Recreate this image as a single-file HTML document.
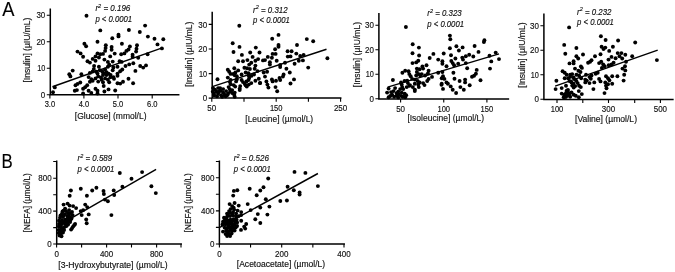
<!DOCTYPE html>
<html><head><meta charset="utf-8"><title>Figure</title>
<style>html,body{margin:0;padding:0;background:#fff}svg{display:block}text{font-family:'Liberation Sans', Arial, Helvetica, sans-serif;stroke:#111;stroke-width:.15px}</style>
</head><body>
<svg width="675" height="272" viewBox="0 0 675 272">
<rect width="675" height="272" fill="#fff"/>
<g style="stroke:#000;stroke-width:.35px">
<text x="2.30" y="16.40" font-size="20.3" text-anchor="start" fill="#000" textLength="12.20" lengthAdjust="spacingAndGlyphs">A</text>
<text x="1.60" y="167.75" font-size="20.3" text-anchor="start" fill="#000" textLength="11.20" lengthAdjust="spacingAndGlyphs">B</text>
</g>
<path d="M50.30 9.20V94.80H178.70" fill="none" stroke="#000" stroke-width="1.5" stroke-linecap="square"/>
<text x="45.30" y="97.95" font-size="8.6" text-anchor="end" fill="#111" textLength="4.45" lengthAdjust="spacingAndGlyphs">0</text>
<text x="45.30" y="71.45" font-size="8.6" text-anchor="end" fill="#111" textLength="8.15" lengthAdjust="spacingAndGlyphs">10</text>
<text x="45.30" y="44.95" font-size="8.6" text-anchor="end" fill="#111" textLength="8.90" lengthAdjust="spacingAndGlyphs">20</text>
<text x="45.30" y="18.35" font-size="8.6" text-anchor="end" fill="#111" textLength="8.90" lengthAdjust="spacingAndGlyphs">30</text>
<text x="49.90" y="107.45" font-size="8.6" text-anchor="middle" fill="#111" textLength="10.50" lengthAdjust="spacingAndGlyphs">3.0</text>
<text x="83.90" y="107.45" font-size="8.6" text-anchor="middle" fill="#111" textLength="10.50" lengthAdjust="spacingAndGlyphs">4.0</text>
<text x="118.00" y="107.45" font-size="8.6" text-anchor="middle" fill="#111" textLength="10.50" lengthAdjust="spacingAndGlyphs">5.0</text>
<text x="152.20" y="107.45" font-size="8.6" text-anchor="middle" fill="#111" textLength="10.50" lengthAdjust="spacingAndGlyphs">6.0</text>
<path d="M46.80 94.80H50.30M46.80 68.30H50.30M46.80 41.80H50.30M46.80 15.20H50.30M49.90 94.80V98.40M83.90 94.80V98.40M118.00 94.80V98.40M152.20 94.80V98.40" fill="none" stroke="#000" stroke-width="1.1"/>
<text x="110.65" y="118.70" font-size="8.6" text-anchor="middle" fill="#111" textLength="71.70" lengthAdjust="spacingAndGlyphs">[Glucose] (mmol/L)</text>
<text x="30.30" y="50.10" font-size="8.6" text-anchor="middle" fill="#111" textLength="65.00" lengthAdjust="spacingAndGlyphs" transform="rotate(-90 30.30 50.10)">[Insulin] (µIU/mL)</text>
<text x="95.40" y="11.40" font-size="8.6" font-style="italic" fill="#111" textLength="34.90" lengthAdjust="spacingAndGlyphs">r<tspan font-size="6" dy="-3.3">2</tspan><tspan dy="3.3"> = 0.196</tspan></text>
<text x="95.40" y="21.70" font-size="8.6" text-anchor="start" fill="#111" textLength="36.70" lengthAdjust="spacingAndGlyphs" font-style="italic">p &lt; 0.0001</text>
<line x1="52.4" y1="86.7" x2="162.9" y2="47.6" stroke="#000" stroke-width="1.45"/>
<g fill="#000">
<circle cx="86.5" cy="15.8" r="1.95"/>
<circle cx="100.3" cy="30.4" r="1.95"/>
<circle cx="128.9" cy="30.0" r="1.95"/>
<circle cx="139.8" cy="32.0" r="1.95"/>
<circle cx="118.5" cy="34.8" r="1.95"/>
<circle cx="118.5" cy="36.4" r="1.95"/>
<circle cx="112.3" cy="38.2" r="1.95"/>
<circle cx="97.5" cy="41.7" r="1.95"/>
<circle cx="84.4" cy="43.8" r="1.95"/>
<circle cx="86.1" cy="46.3" r="1.95"/>
<circle cx="105.8" cy="45.2" r="1.95"/>
<circle cx="121.9" cy="43.8" r="1.95"/>
<circle cx="111.6" cy="47.0" r="1.95"/>
<circle cx="129.9" cy="46.5" r="1.95"/>
<circle cx="137.0" cy="45.2" r="1.95"/>
<circle cx="145.1" cy="25.6" r="1.95"/>
<circle cx="147.9" cy="36.6" r="1.95"/>
<circle cx="154.5" cy="38.7" r="1.95"/>
<circle cx="163.3" cy="39.3" r="1.95"/>
<circle cx="157.5" cy="44.4" r="1.95"/>
<circle cx="105.6" cy="48.1" r="1.95"/>
<circle cx="105.1" cy="50.9" r="1.95"/>
<circle cx="111.6" cy="49.8" r="1.95"/>
<circle cx="128.5" cy="49.5" r="1.95"/>
<circle cx="126.4" cy="50.9" r="1.95"/>
<circle cx="136.5" cy="48.8" r="1.95"/>
<circle cx="136.1" cy="51.6" r="1.95"/>
<circle cx="77.5" cy="51.6" r="1.95"/>
<circle cx="80.6" cy="53.4" r="1.95"/>
<circle cx="83.1" cy="56.7" r="1.95"/>
<circle cx="97.5" cy="53.4" r="1.95"/>
<circle cx="100.3" cy="54.3" r="1.95"/>
<circle cx="103.0" cy="53.9" r="1.95"/>
<circle cx="95.5" cy="56.4" r="1.95"/>
<circle cx="98.9" cy="57.5" r="1.95"/>
<circle cx="92.7" cy="58.9" r="1.95"/>
<circle cx="95.5" cy="60.8" r="1.95"/>
<circle cx="87.5" cy="61.2" r="1.95"/>
<circle cx="89.9" cy="62.6" r="1.95"/>
<circle cx="114.7" cy="53.6" r="1.95"/>
<circle cx="121.2" cy="54.3" r="1.95"/>
<circle cx="124.4" cy="53.4" r="1.95"/>
<circle cx="110.2" cy="56.4" r="1.95"/>
<circle cx="104.4" cy="59.6" r="1.95"/>
<circle cx="107.9" cy="61.9" r="1.95"/>
<circle cx="112.7" cy="61.6" r="1.95"/>
<circle cx="119.6" cy="61.2" r="1.95"/>
<circle cx="121.6" cy="61.9" r="1.95"/>
<circle cx="132.6" cy="54.7" r="1.95"/>
<circle cx="132.6" cy="56.7" r="1.95"/>
<circle cx="138.2" cy="57.8" r="1.95"/>
<circle cx="125.5" cy="66.0" r="1.95"/>
<circle cx="129.2" cy="64.4" r="1.95"/>
<circle cx="133.3" cy="63.3" r="1.95"/>
<circle cx="140.2" cy="66.0" r="1.95"/>
<circle cx="94.1" cy="66.0" r="1.95"/>
<circle cx="93.8" cy="69.1" r="1.95"/>
<circle cx="92.7" cy="71.5" r="1.95"/>
<circle cx="98.9" cy="66.7" r="1.95"/>
<circle cx="107.9" cy="66.7" r="1.95"/>
<circle cx="109.2" cy="64.7" r="1.95"/>
<circle cx="105.1" cy="69.5" r="1.95"/>
<circle cx="106.5" cy="72.2" r="1.95"/>
<circle cx="113.4" cy="67.4" r="1.95"/>
<circle cx="112.7" cy="70.2" r="1.95"/>
<circle cx="117.5" cy="66.7" r="1.95"/>
<circle cx="122.3" cy="69.5" r="1.95"/>
<circle cx="120.2" cy="71.3" r="1.95"/>
<circle cx="117.5" cy="73.6" r="1.95"/>
<circle cx="135.4" cy="70.9" r="1.95"/>
<circle cx="72.7" cy="70.6" r="1.95"/>
<circle cx="69.3" cy="74.3" r="1.95"/>
<circle cx="70.4" cy="76.4" r="1.95"/>
<circle cx="81.4" cy="74.3" r="1.95"/>
<circle cx="89.9" cy="72.9" r="1.95"/>
<circle cx="97.5" cy="73.6" r="1.95"/>
<circle cx="98.2" cy="76.4" r="1.95"/>
<circle cx="102.3" cy="71.5" r="1.95"/>
<circle cx="103.0" cy="75.0" r="1.95"/>
<circle cx="110.6" cy="75.0" r="1.95"/>
<circle cx="113.4" cy="77.1" r="1.95"/>
<circle cx="117.5" cy="75.7" r="1.95"/>
<circle cx="128.5" cy="78.8" r="1.95"/>
<circle cx="88.6" cy="77.1" r="1.95"/>
<circle cx="91.3" cy="79.1" r="1.95"/>
<circle cx="95.5" cy="78.4" r="1.95"/>
<circle cx="105.1" cy="78.4" r="1.95"/>
<circle cx="107.9" cy="79.8" r="1.95"/>
<circle cx="101.7" cy="79.8" r="1.95"/>
<circle cx="54.8" cy="87.4" r="1.95"/>
<circle cx="53.0" cy="92.2" r="1.95"/>
<circle cx="75.5" cy="85.3" r="1.95"/>
<circle cx="77.5" cy="83.9" r="1.95"/>
<circle cx="80.3" cy="82.5" r="1.95"/>
<circle cx="74.8" cy="90.8" r="1.95"/>
<circle cx="76.9" cy="90.1" r="1.95"/>
<circle cx="83.1" cy="88.7" r="1.95"/>
<circle cx="85.1" cy="87.3" r="1.95"/>
<circle cx="87.2" cy="85.3" r="1.95"/>
<circle cx="83.1" cy="93.5" r="1.95"/>
<circle cx="89.9" cy="81.8" r="1.95"/>
<circle cx="92.7" cy="80.8" r="1.95"/>
<circle cx="88.6" cy="90.8" r="1.95"/>
<circle cx="91.3" cy="92.9" r="1.95"/>
<circle cx="95.5" cy="88.7" r="1.95"/>
<circle cx="97.5" cy="90.8" r="1.95"/>
<circle cx="97.5" cy="93.5" r="1.95"/>
<circle cx="98.2" cy="81.6" r="1.95"/>
<circle cx="103.0" cy="82.2" r="1.95"/>
<circle cx="103.7" cy="86.0" r="1.95"/>
<circle cx="104.4" cy="91.5" r="1.95"/>
<circle cx="108.5" cy="89.4" r="1.95"/>
<circle cx="109.2" cy="82.2" r="1.95"/>
<circle cx="114.0" cy="78.8" r="1.95"/>
<circle cx="115.2" cy="90.5" r="1.95"/>
<circle cx="117.5" cy="83.2" r="1.95"/>
<circle cx="120.2" cy="83.6" r="1.95"/>
<circle cx="123.0" cy="81.8" r="1.95"/>
<circle cx="133.1" cy="83.2" r="1.95"/>
<circle cx="161.9" cy="48.4" r="1.95"/>
<circle cx="147.6" cy="54.3" r="1.95"/>
<circle cx="146.0" cy="65.4" r="1.95"/>
<circle cx="143.2" cy="67.6" r="1.95"/>
<circle cx="103.6" cy="73.3" r="1.95"/>
<circle cx="106.5" cy="75.0" r="1.95"/>
<circle cx="108.6" cy="73.8" r="1.95"/>
<circle cx="101.0" cy="77.5" r="1.95"/>
<circle cx="110.4" cy="77.2" r="1.95"/>
<circle cx="99.8" cy="70.2" r="1.95"/>
<circle cx="96.3" cy="71.8" r="1.95"/>
</g>
<path d="M212.20 12.40V98.10H340.70" fill="none" stroke="#000" stroke-width="1.5" stroke-linecap="square"/>
<text x="207.20" y="101.25" font-size="8.6" text-anchor="end" fill="#111" textLength="4.45" lengthAdjust="spacingAndGlyphs">0</text>
<text x="207.20" y="76.75" font-size="8.6" text-anchor="end" fill="#111" textLength="8.15" lengthAdjust="spacingAndGlyphs">10</text>
<text x="207.20" y="52.15" font-size="8.6" text-anchor="end" fill="#111" textLength="8.90" lengthAdjust="spacingAndGlyphs">20</text>
<text x="207.20" y="27.55" font-size="8.6" text-anchor="end" fill="#111" textLength="8.90" lengthAdjust="spacingAndGlyphs">30</text>
<text x="211.80" y="110.95" font-size="8.6" text-anchor="middle" fill="#111" textLength="8.90" lengthAdjust="spacingAndGlyphs">50</text>
<text x="276.20" y="110.95" font-size="8.6" text-anchor="middle" fill="#111" textLength="12.60" lengthAdjust="spacingAndGlyphs">150</text>
<text x="340.60" y="110.95" font-size="8.6" text-anchor="middle" fill="#111" textLength="13.35" lengthAdjust="spacingAndGlyphs">250</text>
<path d="M208.70 98.10H212.20M208.70 73.60H212.20M208.70 49.00H212.20M208.70 24.40H212.20M211.80 98.10V101.70M244.00 98.10V101.70M276.20 98.10V101.70M308.40 98.10V101.70M340.60 98.10V101.70" fill="none" stroke="#000" stroke-width="1.1"/>
<text x="279.25" y="121.60" font-size="8.6" text-anchor="middle" fill="#111" textLength="67.90" lengthAdjust="spacingAndGlyphs">[Leucine] (µmol/L)</text>
<text x="192.20" y="54.20" font-size="8.6" text-anchor="middle" fill="#111" textLength="65.20" lengthAdjust="spacingAndGlyphs" transform="rotate(-90 192.20 54.20)">[Insulin] (µIU/mL)</text>
<text x="253.10" y="12.50" font-size="8.6" font-style="italic" fill="#111" textLength="34.50" lengthAdjust="spacingAndGlyphs">r<tspan font-size="6" dy="-3.3">2</tspan><tspan dy="3.3"> = 0.312</tspan></text>
<text x="253.10" y="23.00" font-size="8.6" text-anchor="start" fill="#111" textLength="36.80" lengthAdjust="spacingAndGlyphs" font-style="italic">p &lt; 0.0001</text>
<line x1="212.3" y1="86.6" x2="326.5" y2="49.2" stroke="#000" stroke-width="1.45"/>
<g fill="#000">
<circle cx="239.3" cy="25.7" r="1.95"/>
<circle cx="278.5" cy="34.9" r="1.95"/>
<circle cx="272.2" cy="38.8" r="1.95"/>
<circle cx="232.7" cy="43.3" r="1.95"/>
<circle cx="239.5" cy="46.9" r="1.95"/>
<circle cx="255.8" cy="47.6" r="1.95"/>
<circle cx="278.5" cy="45.0" r="1.95"/>
<circle cx="278.5" cy="46.8" r="1.95"/>
<circle cx="297.0" cy="45.0" r="1.95"/>
<circle cx="275.1" cy="49.3" r="1.95"/>
<circle cx="287.6" cy="51.3" r="1.95"/>
<circle cx="291.6" cy="51.3" r="1.95"/>
<circle cx="233.5" cy="52.0" r="1.95"/>
<circle cx="250.2" cy="52.5" r="1.95"/>
<circle cx="259.5" cy="52.5" r="1.95"/>
<circle cx="241.9" cy="54.9" r="1.95"/>
<circle cx="252.6" cy="56.9" r="1.95"/>
<circle cx="272.6" cy="53.9" r="1.95"/>
<circle cx="275.6" cy="53.9" r="1.95"/>
<circle cx="296.3" cy="53.6" r="1.95"/>
<circle cx="287.8" cy="56.6" r="1.95"/>
<circle cx="290.5" cy="56.4" r="1.95"/>
<circle cx="300.2" cy="56.0" r="1.95"/>
<circle cx="303.6" cy="55.0" r="1.95"/>
<circle cx="267.8" cy="56.9" r="1.95"/>
<circle cx="271.9" cy="57.7" r="1.95"/>
<circle cx="258.1" cy="59.1" r="1.95"/>
<circle cx="255.4" cy="60.8" r="1.95"/>
<circle cx="263.0" cy="60.4" r="1.95"/>
<circle cx="265.0" cy="60.1" r="1.95"/>
<circle cx="247.4" cy="60.1" r="1.95"/>
<circle cx="238.2" cy="61.2" r="1.95"/>
<circle cx="243.0" cy="61.2" r="1.95"/>
<circle cx="276.7" cy="60.8" r="1.95"/>
<circle cx="298.8" cy="60.8" r="1.95"/>
<circle cx="302.9" cy="60.4" r="1.95"/>
<circle cx="269.9" cy="62.2" r="1.95"/>
<circle cx="269.9" cy="64.6" r="1.95"/>
<circle cx="251.3" cy="62.8" r="1.95"/>
<circle cx="249.2" cy="64.6" r="1.95"/>
<circle cx="255.4" cy="65.6" r="1.95"/>
<circle cx="285.0" cy="62.8" r="1.95"/>
<circle cx="294.6" cy="63.8" r="1.95"/>
<circle cx="280.2" cy="64.9" r="1.95"/>
<circle cx="280.2" cy="67.0" r="1.95"/>
<circle cx="286.4" cy="68.8" r="1.95"/>
<circle cx="244.4" cy="67.7" r="1.95"/>
<circle cx="247.1" cy="68.3" r="1.95"/>
<circle cx="249.9" cy="69.0" r="1.95"/>
<circle cx="254.7" cy="68.8" r="1.95"/>
<circle cx="234.3" cy="68.3" r="1.95"/>
<circle cx="227.8" cy="69.7" r="1.95"/>
<circle cx="229.2" cy="71.8" r="1.95"/>
<circle cx="230.6" cy="73.9" r="1.95"/>
<circle cx="238.2" cy="70.4" r="1.95"/>
<circle cx="235.4" cy="72.5" r="1.95"/>
<circle cx="233.3" cy="73.9" r="1.95"/>
<circle cx="245.7" cy="72.5" r="1.95"/>
<circle cx="248.5" cy="73.2" r="1.95"/>
<circle cx="257.5" cy="71.1" r="1.95"/>
<circle cx="263.7" cy="72.5" r="1.95"/>
<circle cx="267.1" cy="71.8" r="1.95"/>
<circle cx="289.8" cy="72.5" r="1.95"/>
<circle cx="241.6" cy="74.5" r="1.95"/>
<circle cx="236.8" cy="76.2" r="1.95"/>
<circle cx="234.7" cy="75.2" r="1.95"/>
<circle cx="248.5" cy="75.2" r="1.95"/>
<circle cx="251.3" cy="75.9" r="1.95"/>
<circle cx="254.0" cy="74.5" r="1.95"/>
<circle cx="249.2" cy="78.0" r="1.95"/>
<circle cx="248.5" cy="80.0" r="1.95"/>
<circle cx="265.0" cy="76.6" r="1.95"/>
<circle cx="283.6" cy="74.5" r="1.95"/>
<circle cx="282.9" cy="76.6" r="1.95"/>
<circle cx="279.5" cy="78.0" r="1.95"/>
<circle cx="280.2" cy="80.0" r="1.95"/>
<circle cx="258.8" cy="78.7" r="1.95"/>
<circle cx="255.4" cy="80.7" r="1.95"/>
<circle cx="271.9" cy="79.4" r="1.95"/>
<circle cx="272.6" cy="81.4" r="1.95"/>
<circle cx="276.0" cy="80.7" r="1.95"/>
<circle cx="294.0" cy="79.4" r="1.95"/>
<circle cx="217.5" cy="79.2" r="1.95"/>
<circle cx="227.8" cy="77.6" r="1.95"/>
<circle cx="230.6" cy="80.0" r="1.95"/>
<circle cx="229.9" cy="82.1" r="1.95"/>
<circle cx="236.8" cy="79.4" r="1.95"/>
<circle cx="236.1" cy="81.4" r="1.95"/>
<circle cx="241.6" cy="80.0" r="1.95"/>
<circle cx="243.0" cy="82.1" r="1.95"/>
<circle cx="246.4" cy="81.4" r="1.95"/>
<circle cx="266.4" cy="81.4" r="1.95"/>
<circle cx="260.2" cy="83.0" r="1.95"/>
<circle cx="290.5" cy="83.5" r="1.95"/>
<circle cx="213.0" cy="88.1" r="1.95"/>
<circle cx="212.8" cy="91.6" r="1.95"/>
<circle cx="214.0" cy="95.2" r="1.95"/>
<circle cx="218.1" cy="93.7" r="1.95"/>
<circle cx="220.1" cy="88.1" r="1.95"/>
<circle cx="220.6" cy="90.6" r="1.95"/>
<circle cx="223.1" cy="92.6" r="1.95"/>
<circle cx="224.6" cy="94.7" r="1.95"/>
<circle cx="225.6" cy="96.2" r="1.95"/>
<circle cx="221.1" cy="95.2" r="1.95"/>
<circle cx="228.6" cy="87.1" r="1.95"/>
<circle cx="229.7" cy="89.1" r="1.95"/>
<circle cx="230.2" cy="91.6" r="1.95"/>
<circle cx="232.2" cy="93.1" r="1.95"/>
<circle cx="234.2" cy="94.7" r="1.95"/>
<circle cx="234.7" cy="96.7" r="1.95"/>
<circle cx="228.1" cy="93.7" r="1.95"/>
<circle cx="216.6" cy="91.6" r="1.95"/>
<circle cx="230.7" cy="84.3" r="1.95"/>
<circle cx="233.7" cy="85.1" r="1.95"/>
<circle cx="235.2" cy="86.6" r="1.95"/>
<circle cx="240.2" cy="86.1" r="1.95"/>
<circle cx="239.7" cy="88.6" r="1.95"/>
<circle cx="239.7" cy="90.1" r="1.95"/>
<circle cx="244.8" cy="83.9" r="1.95"/>
<circle cx="245.8" cy="85.4" r="1.95"/>
<circle cx="246.8" cy="86.6" r="1.95"/>
<circle cx="248.8" cy="84.6" r="1.95"/>
<circle cx="251.3" cy="83.1" r="1.95"/>
<circle cx="259.9" cy="83.1" r="1.95"/>
<circle cx="267.4" cy="84.6" r="1.95"/>
<circle cx="268.4" cy="87.6" r="1.95"/>
<circle cx="275.5" cy="87.1" r="1.95"/>
<circle cx="277.2" cy="91.3" r="1.95"/>
<circle cx="306.8" cy="39.1" r="1.95"/>
<circle cx="313.2" cy="41.2" r="1.95"/>
<circle cx="327.4" cy="58.2" r="1.95"/>
<circle cx="308.2" cy="67.6" r="1.95"/>
<circle cx="215.0" cy="89.6" r="1.95"/>
<circle cx="218.1" cy="88.1" r="1.95"/>
<circle cx="223.1" cy="89.1" r="1.95"/>
<circle cx="226.1" cy="91.1" r="1.95"/>
<circle cx="227.1" cy="95.2" r="1.95"/>
<circle cx="232.2" cy="90.1" r="1.95"/>
<circle cx="214.0" cy="93.7" r="1.95"/>
<circle cx="219.1" cy="91.6" r="1.95"/>
<circle cx="222.1" cy="96.7" r="1.95"/>
<circle cx="234.7" cy="92.6" r="1.95"/>
<circle cx="217.0" cy="96.2" r="1.95"/>
</g>
<path d="M378.90 13.80V98.90H508.40" fill="none" stroke="#000" stroke-width="1.5" stroke-linecap="square"/>
<text x="373.90" y="101.95" font-size="8.6" text-anchor="end" fill="#111" textLength="4.45" lengthAdjust="spacingAndGlyphs">0</text>
<text x="373.90" y="77.45" font-size="8.6" text-anchor="end" fill="#111" textLength="8.15" lengthAdjust="spacingAndGlyphs">10</text>
<text x="373.90" y="52.95" font-size="8.6" text-anchor="end" fill="#111" textLength="8.90" lengthAdjust="spacingAndGlyphs">20</text>
<text x="373.90" y="28.45" font-size="8.6" text-anchor="end" fill="#111" textLength="8.90" lengthAdjust="spacingAndGlyphs">30</text>
<text x="400.60" y="112.05" font-size="8.6" text-anchor="middle" fill="#111" textLength="8.90" lengthAdjust="spacingAndGlyphs">50</text>
<text x="443.75" y="112.05" font-size="8.6" text-anchor="middle" fill="#111" textLength="12.60" lengthAdjust="spacingAndGlyphs">100</text>
<text x="486.90" y="112.05" font-size="8.6" text-anchor="middle" fill="#111" textLength="12.60" lengthAdjust="spacingAndGlyphs">150</text>
<path d="M375.40 98.80H378.90M375.40 74.30H378.90M375.40 49.80H378.90M375.40 25.30H378.90M400.60 98.90V102.50M443.75 98.90V102.50M486.90 98.90V102.50" fill="none" stroke="#000" stroke-width="1.1"/>
<text x="445.75" y="121.40" font-size="8.6" text-anchor="middle" fill="#111" textLength="76.70" lengthAdjust="spacingAndGlyphs">[Isoleucine] (µmol/L)</text>
<text x="359.90" y="54.60" font-size="8.6" text-anchor="middle" fill="#111" textLength="65.20" lengthAdjust="spacingAndGlyphs" transform="rotate(-90 359.90 54.60)">[Insulin] (µIU/mL)</text>
<text x="427.30" y="16.10" font-size="8.6" font-style="italic" fill="#111" textLength="34.40" lengthAdjust="spacingAndGlyphs">r<tspan font-size="6" dy="-3.3">2</tspan><tspan dy="3.3"> = 0.323</tspan></text>
<text x="427.30" y="26.60" font-size="8.6" text-anchor="start" fill="#111" textLength="36.70" lengthAdjust="spacingAndGlyphs" font-style="italic">p &lt; 0.0001</text>
<line x1="387.6" y1="87.1" x2="499" y2="53.9" stroke="#000" stroke-width="1.45"/>
<g fill="#000">
<circle cx="405.9" cy="27.0" r="1.95"/>
<circle cx="449.9" cy="35.6" r="1.95"/>
<circle cx="450.3" cy="39.3" r="1.95"/>
<circle cx="412.7" cy="44.2" r="1.95"/>
<circle cx="418.9" cy="47.6" r="1.95"/>
<circle cx="449.9" cy="48.3" r="1.95"/>
<circle cx="456.4" cy="46.2" r="1.95"/>
<circle cx="458.9" cy="50.5" r="1.95"/>
<circle cx="462.6" cy="47.4" r="1.95"/>
<circle cx="412.5" cy="53.2" r="1.95"/>
<circle cx="433.4" cy="53.9" r="1.95"/>
<circle cx="443.7" cy="53.5" r="1.95"/>
<circle cx="451.0" cy="55.3" r="1.95"/>
<circle cx="419.1" cy="55.5" r="1.95"/>
<circle cx="469.2" cy="54.7" r="1.95"/>
<circle cx="465.8" cy="56.2" r="1.95"/>
<circle cx="462.3" cy="57.6" r="1.95"/>
<circle cx="463.0" cy="59.6" r="1.95"/>
<circle cx="429.7" cy="58.0" r="1.95"/>
<circle cx="438.2" cy="59.6" r="1.95"/>
<circle cx="455.4" cy="58.5" r="1.95"/>
<circle cx="418.3" cy="60.7" r="1.95"/>
<circle cx="416.2" cy="62.4" r="1.95"/>
<circle cx="412.5" cy="63.1" r="1.95"/>
<circle cx="442.4" cy="61.3" r="1.95"/>
<circle cx="442.4" cy="63.8" r="1.95"/>
<circle cx="451.3" cy="61.0" r="1.95"/>
<circle cx="452.7" cy="63.1" r="1.95"/>
<circle cx="454.1" cy="65.2" r="1.95"/>
<circle cx="458.2" cy="63.8" r="1.95"/>
<circle cx="465.8" cy="63.1" r="1.95"/>
<circle cx="426.5" cy="65.2" r="1.95"/>
<circle cx="446.5" cy="66.3" r="1.95"/>
<circle cx="422.4" cy="66.5" r="1.95"/>
<circle cx="423.1" cy="68.6" r="1.95"/>
<circle cx="416.9" cy="68.6" r="1.95"/>
<circle cx="419.6" cy="69.3" r="1.95"/>
<circle cx="467.2" cy="68.2" r="1.95"/>
<circle cx="428.6" cy="70.7" r="1.95"/>
<circle cx="427.9" cy="73.4" r="1.95"/>
<circle cx="405.2" cy="70.7" r="1.95"/>
<circle cx="402.4" cy="72.7" r="1.95"/>
<circle cx="408.6" cy="71.3" r="1.95"/>
<circle cx="409.3" cy="74.1" r="1.95"/>
<circle cx="410.7" cy="76.2" r="1.95"/>
<circle cx="416.9" cy="72.0" r="1.95"/>
<circle cx="418.9" cy="74.1" r="1.95"/>
<circle cx="420.3" cy="75.5" r="1.95"/>
<circle cx="421.7" cy="74.1" r="1.95"/>
<circle cx="416.2" cy="75.5" r="1.95"/>
<circle cx="438.2" cy="72.7" r="1.95"/>
<circle cx="442.4" cy="72.0" r="1.95"/>
<circle cx="453.4" cy="72.7" r="1.95"/>
<circle cx="425.1" cy="75.5" r="1.95"/>
<circle cx="443.0" cy="76.2" r="1.95"/>
<circle cx="441.7" cy="78.2" r="1.95"/>
<circle cx="444.4" cy="78.9" r="1.95"/>
<circle cx="432.0" cy="76.9" r="1.95"/>
<circle cx="428.6" cy="78.9" r="1.95"/>
<circle cx="427.2" cy="81.0" r="1.95"/>
<circle cx="392.9" cy="80.0" r="1.95"/>
<circle cx="412.1" cy="78.9" r="1.95"/>
<circle cx="414.8" cy="79.6" r="1.95"/>
<circle cx="404.5" cy="81.0" r="1.95"/>
<circle cx="401.0" cy="82.4" r="1.95"/>
<circle cx="401.7" cy="84.4" r="1.95"/>
<circle cx="407.9" cy="83.1" r="1.95"/>
<circle cx="410.0" cy="85.1" r="1.95"/>
<circle cx="417.6" cy="81.0" r="1.95"/>
<circle cx="419.6" cy="82.4" r="1.95"/>
<circle cx="418.3" cy="84.4" r="1.95"/>
<circle cx="423.1" cy="83.1" r="1.95"/>
<circle cx="424.5" cy="85.1" r="1.95"/>
<circle cx="414.8" cy="83.7" r="1.95"/>
<circle cx="454.5" cy="78.7" r="1.95"/>
<circle cx="459.6" cy="81.0" r="1.95"/>
<circle cx="465.1" cy="79.6" r="1.95"/>
<circle cx="465.1" cy="82.4" r="1.95"/>
<circle cx="446.5" cy="82.4" r="1.95"/>
<circle cx="447.9" cy="83.7" r="1.95"/>
<circle cx="441.7" cy="83.7" r="1.95"/>
<circle cx="450.7" cy="86.4" r="1.95"/>
<circle cx="469.7" cy="85.2" r="1.95"/>
<circle cx="407.2" cy="80.6" r="1.95"/>
<circle cx="402.2" cy="87.1" r="1.95"/>
<circle cx="403.2" cy="89.1" r="1.95"/>
<circle cx="395.1" cy="88.1" r="1.95"/>
<circle cx="388.6" cy="88.6" r="1.95"/>
<circle cx="387.1" cy="92.6" r="1.95"/>
<circle cx="392.1" cy="94.7" r="1.95"/>
<circle cx="396.7" cy="95.7" r="1.95"/>
<circle cx="398.7" cy="94.2" r="1.95"/>
<circle cx="388.6" cy="97.2" r="1.95"/>
<circle cx="401.7" cy="92.6" r="1.95"/>
<circle cx="404.7" cy="93.7" r="1.95"/>
<circle cx="406.2" cy="95.2" r="1.95"/>
<circle cx="402.7" cy="96.7" r="1.95"/>
<circle cx="406.7" cy="87.1" r="1.95"/>
<circle cx="409.2" cy="85.9" r="1.95"/>
<circle cx="412.8" cy="87.1" r="1.95"/>
<circle cx="414.8" cy="89.6" r="1.95"/>
<circle cx="414.8" cy="91.1" r="1.95"/>
<circle cx="418.8" cy="87.1" r="1.95"/>
<circle cx="441.5" cy="84.8" r="1.95"/>
<circle cx="443.0" cy="88.9" r="1.95"/>
<circle cx="484.4" cy="40.3" r="1.95"/>
<circle cx="483.9" cy="42.1" r="1.95"/>
<circle cx="474.6" cy="46.0" r="1.95"/>
<circle cx="478.5" cy="51.9" r="1.95"/>
<circle cx="495.7" cy="52.6" r="1.95"/>
<circle cx="473.3" cy="56.5" r="1.95"/>
<circle cx="489.5" cy="55.7" r="1.95"/>
<circle cx="499.0" cy="59.1" r="1.95"/>
<circle cx="491.3" cy="61.4" r="1.95"/>
<circle cx="476.7" cy="69.9" r="1.95"/>
<circle cx="490.0" cy="68.6" r="1.95"/>
<circle cx="475.9" cy="73.7" r="1.95"/>
<circle cx="474.1" cy="75.8" r="1.95"/>
<circle cx="472.0" cy="76.8" r="1.95"/>
<circle cx="480.5" cy="80.2" r="1.95"/>
<circle cx="460.4" cy="87.1" r="1.95"/>
<circle cx="452.7" cy="89.7" r="1.95"/>
<circle cx="463.8" cy="89.7" r="1.95"/>
<circle cx="456.1" cy="93.0" r="1.95"/>
<circle cx="393.6" cy="91.1" r="1.95"/>
<circle cx="398.2" cy="91.6" r="1.95"/>
<circle cx="400.2" cy="89.1" r="1.95"/>
<circle cx="396.7" cy="93.3" r="1.95"/>
<circle cx="401.2" cy="95.9" r="1.95"/>
<circle cx="394.1" cy="96.7" r="1.95"/>
<circle cx="398.2" cy="97.5" r="1.95"/>
<circle cx="405.2" cy="97.2" r="1.95"/>
<circle cx="391.1" cy="92.1" r="1.95"/>
<circle cx="390.3" cy="96.0" r="1.95"/>
</g>
<path d="M543.90 14.30V99.40H672.90" fill="none" stroke="#000" stroke-width="1.5" stroke-linecap="square"/>
<text x="538.90" y="102.45" font-size="8.6" text-anchor="end" fill="#111" textLength="4.45" lengthAdjust="spacingAndGlyphs">0</text>
<text x="538.90" y="77.95" font-size="8.6" text-anchor="end" fill="#111" textLength="8.15" lengthAdjust="spacingAndGlyphs">10</text>
<text x="538.90" y="53.45" font-size="8.6" text-anchor="end" fill="#111" textLength="8.90" lengthAdjust="spacingAndGlyphs">20</text>
<text x="538.90" y="28.95" font-size="8.6" text-anchor="end" fill="#111" textLength="8.90" lengthAdjust="spacingAndGlyphs">30</text>
<text x="557.00" y="112.45" font-size="8.6" text-anchor="middle" fill="#111" textLength="12.60" lengthAdjust="spacingAndGlyphs">100</text>
<text x="608.50" y="112.45" font-size="8.6" text-anchor="middle" fill="#111" textLength="13.35" lengthAdjust="spacingAndGlyphs">300</text>
<text x="660.40" y="112.45" font-size="8.6" text-anchor="middle" fill="#111" textLength="13.35" lengthAdjust="spacingAndGlyphs">500</text>
<path d="M540.40 99.30H543.90M540.40 74.80H543.90M540.40 50.30H543.90M540.40 25.80H543.90M557.00 99.40V103.00M582.80 99.40V103.00M608.50 99.40V103.00M634.70 99.40V103.00M660.40 99.40V103.00" fill="none" stroke="#000" stroke-width="1.1"/>
<text x="606.00" y="121.80" font-size="8.6" text-anchor="middle" fill="#111" textLength="62.00" lengthAdjust="spacingAndGlyphs">[Valine] (µmol/L)</text>
<text x="525.30" y="55.10" font-size="8.6" text-anchor="middle" fill="#111" textLength="65.20" lengthAdjust="spacingAndGlyphs" transform="rotate(-90 525.30 55.10)">[Insulin] (µIU/mL)</text>
<text x="577.10" y="14.70" font-size="8.6" font-style="italic" fill="#111" textLength="34.40" lengthAdjust="spacingAndGlyphs">r<tspan font-size="6" dy="-3.3">2</tspan><tspan dy="3.3"> = 0.232</tspan></text>
<text x="577.10" y="25.00" font-size="8.6" text-anchor="start" fill="#111" textLength="36.80" lengthAdjust="spacingAndGlyphs" font-style="italic">p &lt; 0.0001</text>
<line x1="555.1" y1="86.1" x2="657.7" y2="50.1" stroke="#000" stroke-width="1.45"/>
<g fill="#000">
<circle cx="569.1" cy="27.4" r="1.95"/>
<circle cx="600.9" cy="36.3" r="1.95"/>
<circle cx="605.6" cy="40.0" r="1.95"/>
<circle cx="618.1" cy="40.5" r="1.95"/>
<circle cx="635.2" cy="42.5" r="1.95"/>
<circle cx="564.2" cy="44.9" r="1.95"/>
<circle cx="576.4" cy="48.0" r="1.95"/>
<circle cx="601.6" cy="46.7" r="1.95"/>
<circle cx="603.5" cy="49.0" r="1.95"/>
<circle cx="605.3" cy="47.6" r="1.95"/>
<circle cx="612.9" cy="46.7" r="1.95"/>
<circle cx="609.2" cy="50.9" r="1.95"/>
<circle cx="565.3" cy="53.8" r="1.95"/>
<circle cx="583.0" cy="54.5" r="1.95"/>
<circle cx="600.5" cy="54.2" r="1.95"/>
<circle cx="617.7" cy="53.1" r="1.95"/>
<circle cx="621.4" cy="53.1" r="1.95"/>
<circle cx="625.3" cy="54.7" r="1.95"/>
<circle cx="632.2" cy="56.2" r="1.95"/>
<circle cx="576.4" cy="56.2" r="1.95"/>
<circle cx="578.2" cy="58.5" r="1.95"/>
<circle cx="595.0" cy="56.2" r="1.95"/>
<circle cx="611.5" cy="56.9" r="1.95"/>
<circle cx="608.5" cy="59.6" r="1.95"/>
<circle cx="615.6" cy="58.3" r="1.95"/>
<circle cx="619.5" cy="56.2" r="1.95"/>
<circle cx="622.2" cy="58.5" r="1.95"/>
<circle cx="591.5" cy="60.3" r="1.95"/>
<circle cx="588.1" cy="62.7" r="1.95"/>
<circle cx="590.1" cy="61.7" r="1.95"/>
<circle cx="573.6" cy="61.3" r="1.95"/>
<circle cx="573.6" cy="63.4" r="1.95"/>
<circle cx="569.5" cy="63.4" r="1.95"/>
<circle cx="599.1" cy="63.1" r="1.95"/>
<circle cx="601.2" cy="61.7" r="1.95"/>
<circle cx="603.2" cy="64.5" r="1.95"/>
<circle cx="613.6" cy="62.7" r="1.95"/>
<circle cx="611.5" cy="64.5" r="1.95"/>
<circle cx="608.7" cy="65.2" r="1.95"/>
<circle cx="626.0" cy="61.7" r="1.95"/>
<circle cx="580.9" cy="66.5" r="1.95"/>
<circle cx="581.9" cy="67.9" r="1.95"/>
<circle cx="604.6" cy="66.3" r="1.95"/>
<circle cx="601.9" cy="67.9" r="1.95"/>
<circle cx="625.0" cy="66.3" r="1.95"/>
<circle cx="622.5" cy="68.6" r="1.95"/>
<circle cx="625.3" cy="70.4" r="1.95"/>
<circle cx="575.0" cy="68.6" r="1.95"/>
<circle cx="578.4" cy="70.7" r="1.95"/>
<circle cx="580.5" cy="72.0" r="1.95"/>
<circle cx="562.6" cy="71.3" r="1.95"/>
<circle cx="564.7" cy="72.7" r="1.95"/>
<circle cx="597.7" cy="72.7" r="1.95"/>
<circle cx="595.7" cy="73.7" r="1.95"/>
<circle cx="566.7" cy="74.8" r="1.95"/>
<circle cx="570.2" cy="74.8" r="1.95"/>
<circle cx="572.2" cy="74.1" r="1.95"/>
<circle cx="576.4" cy="74.8" r="1.95"/>
<circle cx="579.1" cy="75.5" r="1.95"/>
<circle cx="586.0" cy="74.8" r="1.95"/>
<circle cx="589.5" cy="76.9" r="1.95"/>
<circle cx="591.5" cy="75.5" r="1.95"/>
<circle cx="624.2" cy="74.8" r="1.95"/>
<circle cx="564.7" cy="78.2" r="1.95"/>
<circle cx="568.1" cy="78.2" r="1.95"/>
<circle cx="570.2" cy="76.9" r="1.95"/>
<circle cx="573.6" cy="77.5" r="1.95"/>
<circle cx="575.0" cy="79.6" r="1.95"/>
<circle cx="581.2" cy="78.2" r="1.95"/>
<circle cx="585.3" cy="79.6" r="1.95"/>
<circle cx="590.8" cy="78.7" r="1.95"/>
<circle cx="606.0" cy="76.2" r="1.95"/>
<circle cx="608.0" cy="78.2" r="1.95"/>
<circle cx="609.4" cy="80.3" r="1.95"/>
<circle cx="612.2" cy="76.2" r="1.95"/>
<circle cx="617.4" cy="76.2" r="1.95"/>
<circle cx="599.1" cy="78.9" r="1.95"/>
<circle cx="600.5" cy="81.4" r="1.95"/>
<circle cx="556.4" cy="80.7" r="1.95"/>
<circle cx="623.6" cy="80.6" r="1.95"/>
<circle cx="569.5" cy="81.0" r="1.95"/>
<circle cx="571.5" cy="82.4" r="1.95"/>
<circle cx="573.6" cy="83.7" r="1.95"/>
<circle cx="576.4" cy="81.0" r="1.95"/>
<circle cx="577.7" cy="83.1" r="1.95"/>
<circle cx="585.3" cy="82.4" r="1.95"/>
<circle cx="589.5" cy="83.1" r="1.95"/>
<circle cx="594.3" cy="82.4" r="1.95"/>
<circle cx="605.3" cy="82.4" r="1.95"/>
<circle cx="608.0" cy="84.2" r="1.95"/>
<circle cx="612.2" cy="83.7" r="1.95"/>
<circle cx="566.0" cy="85.7" r="1.95"/>
<circle cx="573.6" cy="86.1" r="1.95"/>
<circle cx="579.1" cy="85.8" r="1.95"/>
<circle cx="555.6" cy="89.1" r="1.95"/>
<circle cx="561.7" cy="88.1" r="1.95"/>
<circle cx="572.2" cy="85.6" r="1.95"/>
<circle cx="573.7" cy="87.6" r="1.95"/>
<circle cx="575.2" cy="86.1" r="1.95"/>
<circle cx="580.8" cy="87.1" r="1.95"/>
<circle cx="578.8" cy="91.1" r="1.95"/>
<circle cx="581.8" cy="94.1" r="1.95"/>
<circle cx="566.7" cy="90.6" r="1.95"/>
<circle cx="568.2" cy="92.6" r="1.95"/>
<circle cx="561.7" cy="93.6" r="1.95"/>
<circle cx="564.2" cy="94.7" r="1.95"/>
<circle cx="563.7" cy="97.2" r="1.95"/>
<circle cx="567.2" cy="95.7" r="1.95"/>
<circle cx="569.2" cy="94.7" r="1.95"/>
<circle cx="570.2" cy="96.7" r="1.95"/>
<circle cx="573.7" cy="94.7" r="1.95"/>
<circle cx="575.8" cy="95.7" r="1.95"/>
<circle cx="578.8" cy="97.2" r="1.95"/>
<circle cx="586.8" cy="80.6" r="1.95"/>
<circle cx="593.4" cy="89.1" r="1.95"/>
<circle cx="606.0" cy="85.6" r="1.95"/>
<circle cx="606.5" cy="88.3" r="1.95"/>
<circle cx="604.5" cy="93.1" r="1.95"/>
<circle cx="656.9" cy="60.1" r="1.95"/>
<circle cx="565.8" cy="97.0" r="1.95"/>
<circle cx="568.0" cy="90.0" r="1.95"/>
<circle cx="571.5" cy="92.5" r="1.95"/>
<circle cx="566.0" cy="93.0" r="1.95"/>
</g>
<path d="M56.70 161.20V244.00H181.20" fill="none" stroke="#000" stroke-width="1.5" stroke-linecap="square"/>
<text x="51.70" y="247.15" font-size="8.6" text-anchor="end" fill="#111" textLength="4.45" lengthAdjust="spacingAndGlyphs">0</text>
<text x="51.70" y="214.25" font-size="8.6" text-anchor="end" fill="#111" textLength="13.35" lengthAdjust="spacingAndGlyphs">400</text>
<text x="51.70" y="181.35" font-size="8.6" text-anchor="end" fill="#111" textLength="13.35" lengthAdjust="spacingAndGlyphs">800</text>
<text x="56.60" y="257.15" font-size="8.6" text-anchor="middle" fill="#111" textLength="4.45" lengthAdjust="spacingAndGlyphs">0</text>
<text x="106.60" y="257.15" font-size="8.6" text-anchor="middle" fill="#111" textLength="13.35" lengthAdjust="spacingAndGlyphs">400</text>
<text x="156.60" y="257.15" font-size="8.6" text-anchor="middle" fill="#111" textLength="13.35" lengthAdjust="spacingAndGlyphs">800</text>
<path d="M53.20 244.00H56.70M53.20 227.60H56.70M53.20 211.10H56.70M53.20 194.70H56.70M53.20 178.20H56.70M53.20 161.50H56.70M56.60 244.00V247.60M81.60 244.00V247.60M106.60 244.00V247.60M131.50 244.00V247.60M156.60 244.00V247.60M181.00 244.00V247.60" fill="none" stroke="#000" stroke-width="1.1"/>
<text x="113.00" y="267.60" font-size="8.6" text-anchor="middle" fill="#111" textLength="109.40" lengthAdjust="spacingAndGlyphs">[3-Hydroxybutyrate] (µmol/L)</text>
<text x="29.90" y="202.70" font-size="8.6" text-anchor="middle" fill="#111" textLength="59.00" lengthAdjust="spacingAndGlyphs" transform="rotate(-90 29.90 202.70)">[NEFA] (µmol/L)</text>
<text x="77.60" y="161.20" font-size="8.6" font-style="italic" fill="#111" textLength="34.50" lengthAdjust="spacingAndGlyphs">r<tspan font-size="6" dy="-3.3">2</tspan><tspan dy="3.3"> = 0.589</tspan></text>
<text x="77.60" y="172.10" font-size="8.6" text-anchor="start" fill="#111" textLength="36.70" lengthAdjust="spacingAndGlyphs" font-style="italic">p &lt; 0.0001</text>
<line x1="57.0" y1="226.4" x2="156.1" y2="169.4" stroke="#000" stroke-width="1.45"/>
<g fill="#000">
<circle cx="119.8" cy="173.0" r="1.95"/>
<circle cx="142.1" cy="172.1" r="1.95"/>
<circle cx="131.5" cy="178.7" r="1.95"/>
<circle cx="122.4" cy="186.8" r="1.95"/>
<circle cx="96.4" cy="187.7" r="1.95"/>
<circle cx="80.8" cy="188.7" r="1.95"/>
<circle cx="92.2" cy="190.5" r="1.95"/>
<circle cx="70.9" cy="190.5" r="1.95"/>
<circle cx="69.7" cy="195.7" r="1.95"/>
<circle cx="86.9" cy="195.7" r="1.95"/>
<circle cx="103.5" cy="190.9" r="1.95"/>
<circle cx="103.9" cy="194.0" r="1.95"/>
<circle cx="113.7" cy="190.4" r="1.95"/>
<circle cx="114.2" cy="195.0" r="1.95"/>
<circle cx="104.9" cy="199.6" r="1.95"/>
<circle cx="107.9" cy="201.2" r="1.95"/>
<circle cx="151.4" cy="186.2" r="1.95"/>
<circle cx="155.8" cy="193.1" r="1.95"/>
<circle cx="85.2" cy="204.6" r="1.95"/>
<circle cx="87.2" cy="207.1" r="1.95"/>
<circle cx="63.6" cy="204.6" r="1.95"/>
<circle cx="67.6" cy="203.6" r="1.95"/>
<circle cx="69.6" cy="205.6" r="1.95"/>
<circle cx="73.1" cy="206.1" r="1.95"/>
<circle cx="76.1" cy="208.1" r="1.95"/>
<circle cx="80.7" cy="211.1" r="1.95"/>
<circle cx="83.2" cy="210.1" r="1.95"/>
<circle cx="81.7" cy="215.1" r="1.95"/>
<circle cx="88.7" cy="214.4" r="1.95"/>
<circle cx="111.4" cy="215.1" r="1.95"/>
<circle cx="86.2" cy="219.5" r="1.95"/>
<circle cx="86.7" cy="223.3" r="1.95"/>
<circle cx="65.1" cy="208.6" r="1.95"/>
<circle cx="66.1" cy="211.1" r="1.95"/>
<circle cx="69.1" cy="210.1" r="1.95"/>
<circle cx="62.0" cy="213.6" r="1.95"/>
<circle cx="65.1" cy="214.1" r="1.95"/>
<circle cx="70.1" cy="213.1" r="1.95"/>
<circle cx="72.6" cy="215.1" r="1.95"/>
<circle cx="60.0" cy="217.7" r="1.95"/>
<circle cx="63.0" cy="217.1" r="1.95"/>
<circle cx="67.1" cy="216.1" r="1.95"/>
<circle cx="70.1" cy="217.1" r="1.95"/>
<circle cx="59.0" cy="220.7" r="1.95"/>
<circle cx="62.0" cy="220.2" r="1.95"/>
<circle cx="65.1" cy="219.7" r="1.95"/>
<circle cx="68.1" cy="220.2" r="1.95"/>
<circle cx="70.6" cy="219.7" r="1.95"/>
<circle cx="61.0" cy="222.4" r="1.95"/>
<circle cx="64.1" cy="222.2" r="1.95"/>
<circle cx="67.1" cy="222.4" r="1.95"/>
<circle cx="70.1" cy="222.0" r="1.95"/>
<circle cx="75.1" cy="224.0" r="1.95"/>
<circle cx="73.1" cy="226.6" r="1.95"/>
<circle cx="71.1" cy="229.6" r="1.95"/>
<circle cx="59.0" cy="224.0" r="1.95"/>
<circle cx="62.0" cy="224.0" r="1.95"/>
<circle cx="65.1" cy="224.0" r="1.95"/>
<circle cx="68.1" cy="224.5" r="1.95"/>
<circle cx="59.0" cy="227.1" r="1.95"/>
<circle cx="61.5" cy="227.6" r="1.95"/>
<circle cx="64.6" cy="227.1" r="1.95"/>
<circle cx="58.7" cy="230.1" r="1.95"/>
<circle cx="61.0" cy="230.6" r="1.95"/>
<circle cx="64.1" cy="230.1" r="1.95"/>
<circle cx="58.7" cy="233.1" r="1.95"/>
<circle cx="61.0" cy="233.6" r="1.95"/>
<circle cx="63.0" cy="232.6" r="1.95"/>
<circle cx="59.5" cy="235.6" r="1.95"/>
<circle cx="61.5" cy="236.3" r="1.95"/>
<circle cx="63.5" cy="210.6" r="1.95"/>
<circle cx="67.8" cy="218.3" r="1.95"/>
<circle cx="60.5" cy="226.0" r="1.95"/>
<circle cx="63.0" cy="229.0" r="1.95"/>
<circle cx="66.5" cy="226.0" r="1.95"/>
<circle cx="60.0" cy="231.8" r="1.95"/>
<circle cx="62.5" cy="211.5" r="1.95"/>
<circle cx="68.0" cy="213.0" r="1.95"/>
<circle cx="72.0" cy="212.0" r="1.95"/>
<circle cx="60.5" cy="215.5" r="1.95"/>
<circle cx="63.5" cy="215.6" r="1.95"/>
<circle cx="69.0" cy="215.0" r="1.95"/>
<circle cx="71.5" cy="218.5" r="1.95"/>
<circle cx="74.1" cy="225.3" r="1.95"/>
<circle cx="72.1" cy="228.1" r="1.95"/>
</g>
<path d="M219.40 161.20V244.00H344.20" fill="none" stroke="#000" stroke-width="1.5" stroke-linecap="square"/>
<text x="214.40" y="247.15" font-size="8.6" text-anchor="end" fill="#111" textLength="4.45" lengthAdjust="spacingAndGlyphs">0</text>
<text x="214.40" y="214.05" font-size="8.6" text-anchor="end" fill="#111" textLength="13.35" lengthAdjust="spacingAndGlyphs">400</text>
<text x="214.40" y="180.95" font-size="8.6" text-anchor="end" fill="#111" textLength="13.35" lengthAdjust="spacingAndGlyphs">800</text>
<text x="219.40" y="256.85" font-size="8.6" text-anchor="middle" fill="#111" textLength="4.45" lengthAdjust="spacingAndGlyphs">0</text>
<text x="281.70" y="256.85" font-size="8.6" text-anchor="middle" fill="#111" textLength="13.35" lengthAdjust="spacingAndGlyphs">200</text>
<text x="344.00" y="256.85" font-size="8.6" text-anchor="middle" fill="#111" textLength="13.35" lengthAdjust="spacingAndGlyphs">400</text>
<path d="M215.90 244.00H219.40M215.90 227.40H219.40M215.90 210.90H219.40M215.90 194.30H219.40M215.90 177.80H219.40M215.90 161.50H219.40M219.40 244.00V247.60M250.55 244.00V247.60M281.70 244.00V247.60M312.85 244.00V247.60M344.00 244.00V247.60" fill="none" stroke="#000" stroke-width="1.1"/>
<text x="281.00" y="267.10" font-size="8.6" text-anchor="middle" fill="#111" textLength="88.40" lengthAdjust="spacingAndGlyphs">[Acetoacetate] (µmol/L)</text>
<text x="191.00" y="202.70" font-size="8.6" text-anchor="middle" fill="#111" textLength="59.00" lengthAdjust="spacingAndGlyphs" transform="rotate(-90 191.00 202.70)">[NEFA] (µmol/L)</text>
<text x="233.80" y="161.20" font-size="8.6" font-style="italic" fill="#111" textLength="35.10" lengthAdjust="spacingAndGlyphs">r<tspan font-size="6" dy="-3.3">2</tspan><tspan dy="3.3"> = 0.526</tspan></text>
<text x="233.80" y="172.10" font-size="8.6" text-anchor="start" fill="#111" textLength="36.90" lengthAdjust="spacingAndGlyphs" font-style="italic">p &lt; 0.0001</text>
<line x1="219.8" y1="227.4" x2="317.9" y2="173.5" stroke="#000" stroke-width="1.45"/>
<g fill="#000">
<circle cx="294.5" cy="171.9" r="1.95"/>
<circle cx="305.4" cy="172.9" r="1.95"/>
<circle cx="268.2" cy="178.5" r="1.95"/>
<circle cx="287.6" cy="186.8" r="1.95"/>
<circle cx="263.5" cy="187.3" r="1.95"/>
<circle cx="260.3" cy="190.5" r="1.95"/>
<circle cx="249.7" cy="188.7" r="1.95"/>
<circle cx="237.3" cy="190.2" r="1.95"/>
<circle cx="233.9" cy="190.9" r="1.95"/>
<circle cx="233.2" cy="195.6" r="1.95"/>
<circle cx="256.7" cy="195.2" r="1.95"/>
<circle cx="293.8" cy="190.2" r="1.95"/>
<circle cx="299.6" cy="192.5" r="1.95"/>
<circle cx="299.6" cy="194.6" r="1.95"/>
<circle cx="265.8" cy="199.2" r="1.95"/>
<circle cx="280.3" cy="201.0" r="1.95"/>
<circle cx="286.9" cy="200.5" r="1.95"/>
<circle cx="317.9" cy="186.1" r="1.95"/>
<circle cx="247.7" cy="204.1" r="1.95"/>
<circle cx="229.6" cy="204.1" r="1.95"/>
<circle cx="234.6" cy="203.0" r="1.95"/>
<circle cx="238.7" cy="205.6" r="1.95"/>
<circle cx="260.3" cy="207.6" r="1.95"/>
<circle cx="269.4" cy="206.6" r="1.95"/>
<circle cx="250.7" cy="210.1" r="1.95"/>
<circle cx="230.6" cy="209.1" r="1.95"/>
<circle cx="233.6" cy="207.6" r="1.95"/>
<circle cx="237.6" cy="210.6" r="1.95"/>
<circle cx="241.2" cy="212.1" r="1.95"/>
<circle cx="257.8" cy="214.1" r="1.95"/>
<circle cx="267.4" cy="214.6" r="1.95"/>
<circle cx="255.3" cy="219.3" r="1.95"/>
<circle cx="241.2" cy="215.1" r="1.95"/>
<circle cx="241.2" cy="220.8" r="1.95"/>
<circle cx="260.3" cy="223.0" r="1.95"/>
<circle cx="227.1" cy="213.6" r="1.95"/>
<circle cx="230.1" cy="212.6" r="1.95"/>
<circle cx="233.1" cy="212.1" r="1.95"/>
<circle cx="236.1" cy="213.6" r="1.95"/>
<circle cx="224.0" cy="217.7" r="1.95"/>
<circle cx="227.1" cy="216.6" r="1.95"/>
<circle cx="230.1" cy="216.1" r="1.95"/>
<circle cx="233.1" cy="215.6" r="1.95"/>
<circle cx="236.1" cy="216.6" r="1.95"/>
<circle cx="238.7" cy="216.1" r="1.95"/>
<circle cx="224.6" cy="220.7" r="1.95"/>
<circle cx="227.6" cy="220.2" r="1.95"/>
<circle cx="230.6" cy="219.7" r="1.95"/>
<circle cx="233.6" cy="219.2" r="1.95"/>
<circle cx="236.6" cy="219.7" r="1.95"/>
<circle cx="246.2" cy="224.0" r="1.95"/>
<circle cx="244.2" cy="226.6" r="1.95"/>
<circle cx="245.2" cy="228.6" r="1.95"/>
<circle cx="241.0" cy="229.9" r="1.95"/>
<circle cx="223.0" cy="221.8" r="1.95"/>
<circle cx="226.1" cy="222.5" r="1.95"/>
<circle cx="229.1" cy="222.2" r="1.95"/>
<circle cx="232.1" cy="221.5" r="1.95"/>
<circle cx="235.1" cy="222.0" r="1.95"/>
<circle cx="237.1" cy="222.5" r="1.95"/>
<circle cx="222.5" cy="224.5" r="1.95"/>
<circle cx="225.6" cy="224.3" r="1.95"/>
<circle cx="228.6" cy="224.5" r="1.95"/>
<circle cx="231.6" cy="224.0" r="1.95"/>
<circle cx="234.6" cy="224.5" r="1.95"/>
<circle cx="237.1" cy="226.0" r="1.95"/>
<circle cx="224.6" cy="227.6" r="1.95"/>
<circle cx="227.6" cy="227.6" r="1.95"/>
<circle cx="230.6" cy="227.6" r="1.95"/>
<circle cx="233.6" cy="228.1" r="1.95"/>
<circle cx="223.0" cy="231.6" r="1.95"/>
<circle cx="226.1" cy="231.1" r="1.95"/>
<circle cx="229.1" cy="230.9" r="1.95"/>
<circle cx="232.1" cy="231.1" r="1.95"/>
<circle cx="234.6" cy="230.6" r="1.95"/>
<circle cx="225.6" cy="234.1" r="1.95"/>
<circle cx="228.6" cy="234.1" r="1.95"/>
<circle cx="231.6" cy="233.6" r="1.95"/>
<circle cx="227.1" cy="236.1" r="1.95"/>
<circle cx="230.1" cy="236.1" r="1.95"/>
<circle cx="226.0" cy="218.5" r="1.95"/>
<circle cx="229.0" cy="226.0" r="1.95"/>
<circle cx="232.5" cy="226.2" r="1.95"/>
<circle cx="226.5" cy="229.4" r="1.95"/>
<circle cx="231.0" cy="229.3" r="1.95"/>
<circle cx="235.7" cy="227.5" r="1.95"/>
<circle cx="228.0" cy="232.6" r="1.95"/>
<circle cx="232.1" cy="206.1" r="1.95"/>
<circle cx="234.1" cy="209.6" r="1.95"/>
<circle cx="229.1" cy="211.1" r="1.95"/>
<circle cx="232.1" cy="214.1" r="1.95"/>
<circle cx="228.1" cy="215.1" r="1.95"/>
</g>
</svg></body></html>
